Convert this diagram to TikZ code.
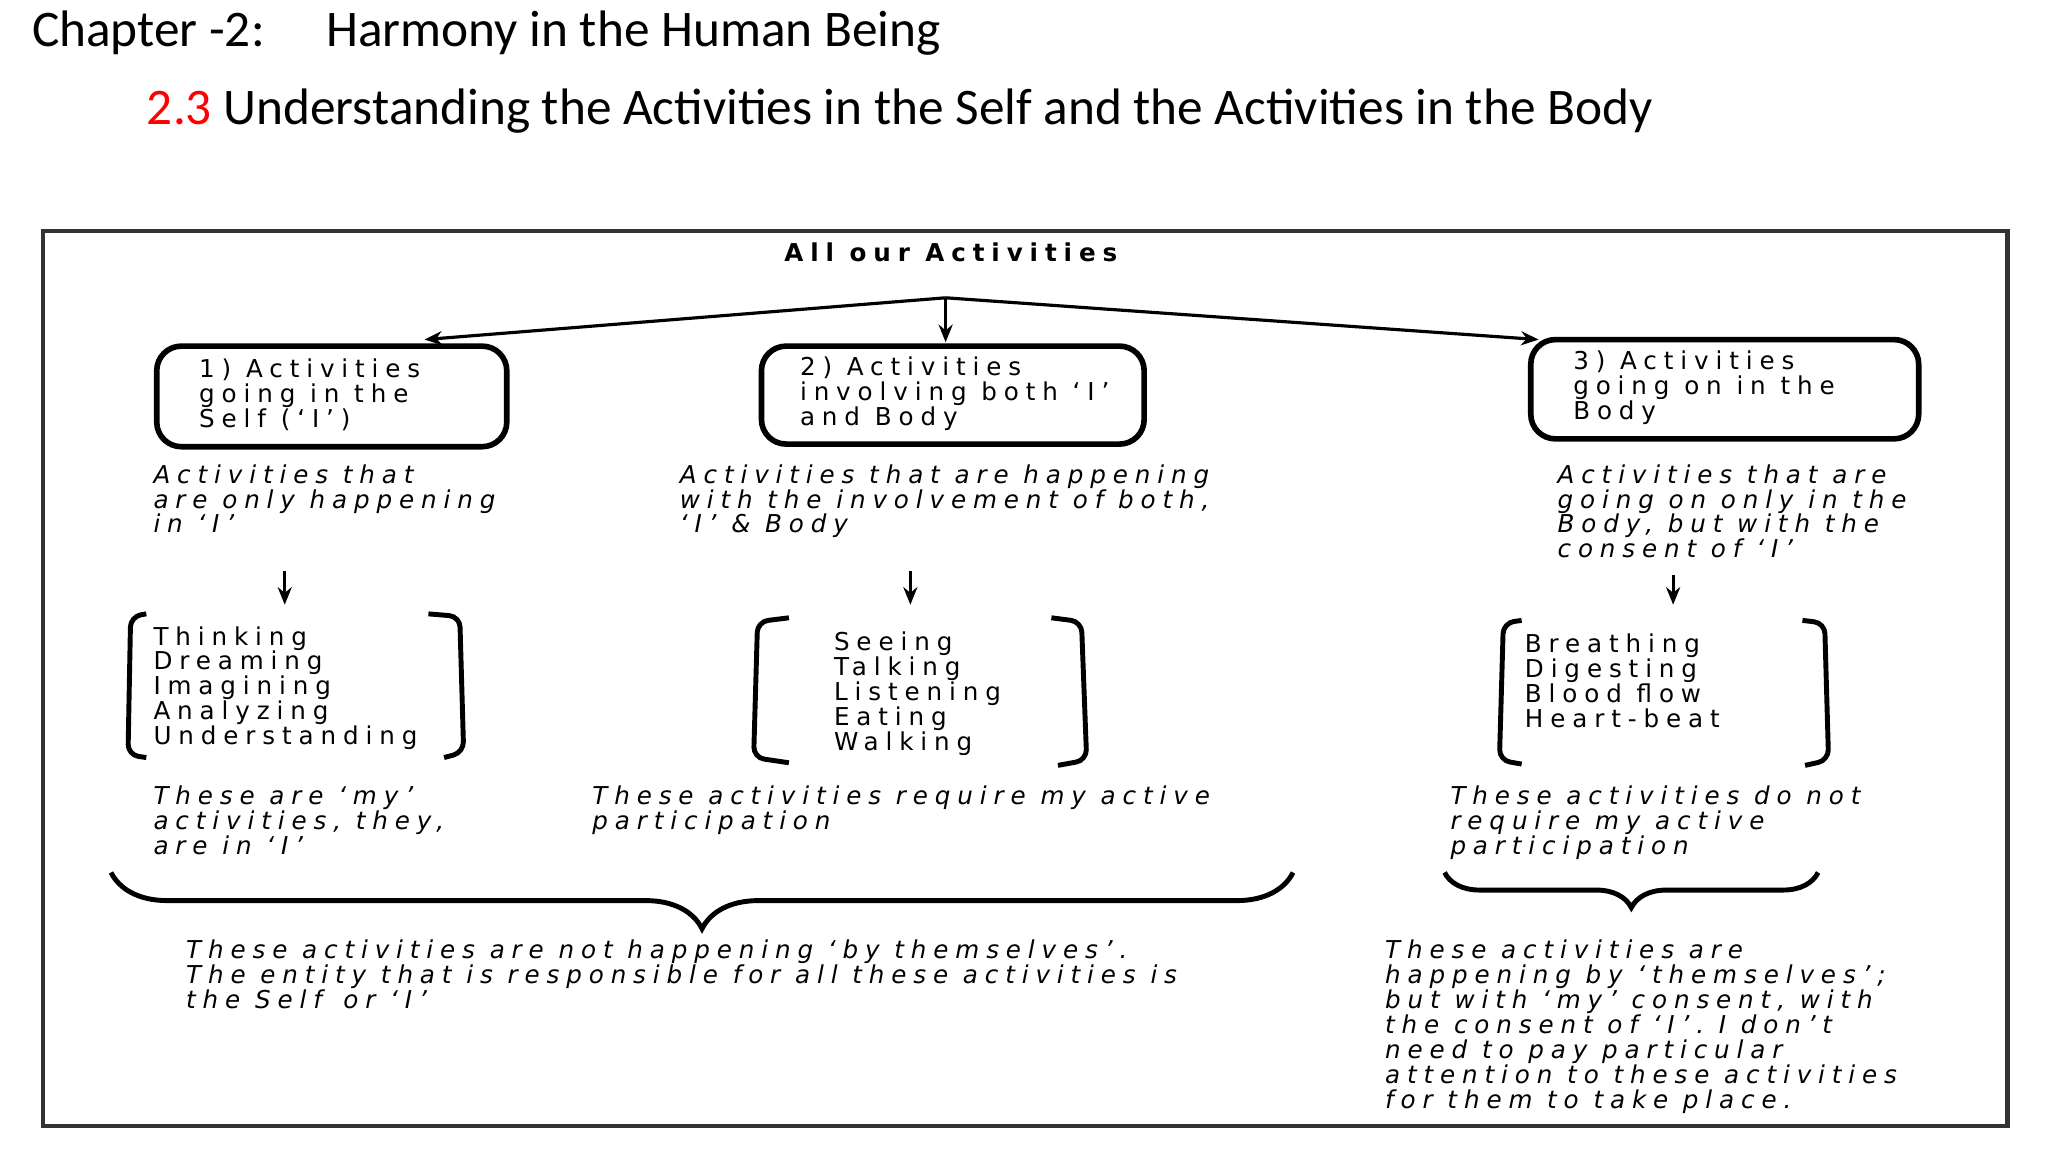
\documentclass[tikz,border=0pt]{standalone}
\usepackage{fontspec}
\setmainfont{Carlito}
\newfontfamily\diag[LetterSpace=28]{DejaVu Sans}
\usetikzlibrary{decorations.pathreplacing,arrows.meta}
\begin{document}
\begin{tikzpicture}[x=0.01306cm,y=-0.01306cm,
  dt/.style={font={\diag\fontsize{7}{7.1}\selectfont},align=left,anchor=north west,inner sep=0pt},
  it/.style={dt,font={\diag\itshape\fontsize{7}{7.1}\selectfont}},
  box/.style={draw,line width=1.6pt,rounded corners=7pt},
  arr/.style={-{Stealth[length=5pt,width=4pt]},line width=0.9pt},
  brk/.style={line width=1.4pt,rounded corners=3pt},
  brc/.style={decorate,decoration={brace,mirror,amplitude=9pt},line width=1.4pt}]
\useasboundingbox (0,0) rectangle (1568,882);
\node[anchor=west,inner sep=0pt,font=\fontsize{14.6}{16}\selectfont] (t1) at (24,25) {Chapter -2:\hspace{1.2em}Harmony in the Human Being};
\node[anchor=west,inner sep=0pt,font=\fontsize{14.6}{16}\selectfont] (t2) at (112,85) {\textcolor{red}{2.3} Understanding the Activities in the Self and the Activities in the Body};
\draw[line width=1.3pt,draw=black!80] (33,177) rectangle (1537,862);
\node[inner sep=0pt,font={\diag\bfseries\fontsize{7}{7.2}\selectfont}] (all) at (728,193) {All our Activities};
\coordinate (hub) at (724,228);
\draw[box] (120,265) rectangle (388,342);
\draw[box] (583,265) rectangle (876,340);
\draw[box] (1172,260) rectangle (1469,336);
\coordinate (b1) at (325,260); \coordinate (b2) at (724,262); \coordinate (b3) at (1178,260);
\draw[arr] (hub) -- (b1);
\draw[arr] (hub) -- (b2);
\draw[arr] (hub) -- (b3);
\node[dt] (n1) at (152,274) {1) Activities\\going in the\\Self (‘I’)};
\node[dt] (n2) at (612,273) {2) Activities\\involving both ‘I’\\and Body};
\node[dt] (n3) at (1204,268) {3) Activities\\going on in the\\Body};
\node[it] (d1) at (117,355) {Activities that\\are only happening\\in ‘I’};
\node[it] (d2) at (520,355) {Activities that are happening\\with the involvement of both,\\‘I’ \& Body};
\node[it] (d3) at (1192,355) {Activities that are\\going on only in the\\Body, but with the\\consent of ‘I’};
\coordinate (a1) at (218,437); \coordinate (a1e) at (218,463);
\coordinate (a2) at (697,437); \coordinate (a2e) at (697,463);
\coordinate (a3) at (1281,440); \coordinate (a3e) at (1281,463);
\draw[arr] (a1) -- (a1e); \draw[arr] (a2) -- (a2e); \draw[arr] (a3) -- (a3e);
\draw[brk] (112,470) -- (100,472) -- (98,578) -- (112,580);
\draw[brk] (328,470) -- (352,472) -- (355,576) -- (340,580);
\draw[brk] (604,473) -- (580,476) -- (577,580) -- (604,584);
\draw[brk] (805,473) -- (828,476) -- (832,582) -- (810,586);
\draw[brk] (1165,475) -- (1151,477) -- (1148,582) -- (1165,585);
\draw[brk] (1380,475) -- (1397,477) -- (1400,582) -- (1382,586);
\node[dt] (l1) at (117,479) {Thinking\\Dreaming\\Imagining\\Analyzing\\Understanding};
\node[dt] (l2) at (638,483) {Seeing\\Talking\\Listening\\Eating\\Walking};
\node[dt] (l3) at (1167,485) {Breathing\\Digesting\\Blood flow\\Heart-beat};
\node[it] (e1) at (117,601) {These are ‘my’\\activities, they,\\are in ‘I’};
\node[it] (e2) at (453,601) {These activities require my active\\participation};
\node[it] (e3) at (1110,601) {These activities do not\\require my active\\participation};
\coordinate (c1) at (85,668); \coordinate (c2) at (990,668);
\coordinate (c3) at (1106,668); \coordinate (c4) at (1392,668);
\draw[brc,decoration={amplitude=16pt}] (c1) -- (c2);
\draw[brc,decoration={amplitude=10pt}] (c3) -- (c4);
\node[it] (f1) at (142,719) {These activities are not happening ‘by themselves’.\\The entity that is responsible for all these activities is\\the Self\; or ‘I’};
\node[it] (f2) at (1060,719) {These activities are\\happening by ‘themselves’;\\but with ‘my’ consent, with\\the consent of ‘I’. I don’t\\need to pay particular\\attention to these activities\\for them to take place.};
\end{tikzpicture}
\end{document}
